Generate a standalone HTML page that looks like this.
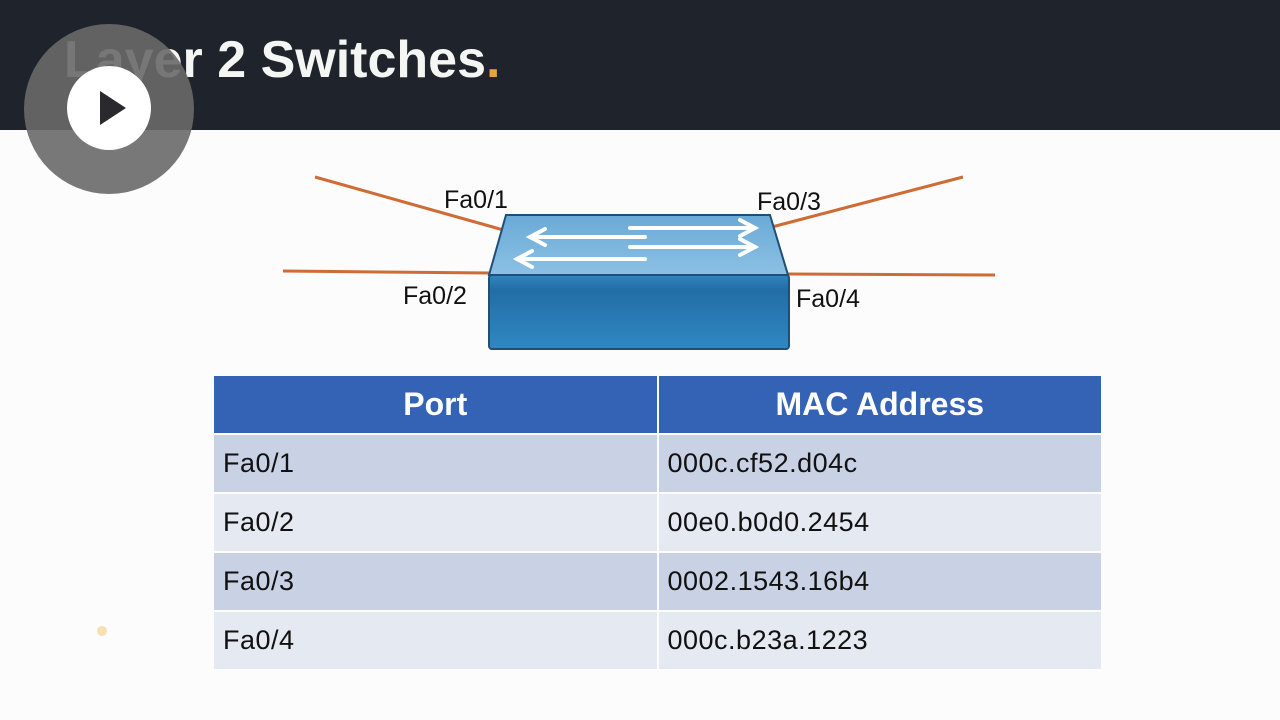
<!DOCTYPE html>
<html><head><style>
body{margin:0;width:1280px;height:720px;background:#fbfcfb;position:relative;overflow:hidden;font-family:"Liberation Sans",sans-serif}
.hdr{position:absolute;left:0;top:0;width:1280px;height:130px;background:#1f232b}
.title{position:absolute;left:64px;top:30px;font-size:52px;font-weight:bold;color:#f4f6f4;letter-spacing:0px}
.title span{color:#e8a33c}
.lbl{position:absolute;font-size:25px;color:#111}
table{position:absolute;left:212px;top:374px;border-collapse:separate;border-spacing:2px;width:891px}
td{font-size:27px;color:#111;padding:0 0 0 9px;height:57px;letter-spacing:0.5px}
th{background:#3462b5;color:#fff;font-size:32px;height:55px}
tr.a td{background:#c9d1e5}
tr.b td{background:#e5e9f2}
</style></head><body>
<div class="hdr"></div>
<div class="title">Layer 2 Switches<span>.</span></div>
<svg width="1280" height="720" style="position:absolute;left:0;top:0">
<g stroke="#cf6b35" stroke-width="3">
<line x1="315" y1="177" x2="507" y2="231"/>
<line x1="283" y1="271" x2="490" y2="273"/>
<line x1="768" y1="228" x2="963" y2="177"/>
<line x1="788" y1="274" x2="995" y2="275"/>
</g>
<defs><linearGradient id="f" x1="0" y1="0" x2="0" y2="1"><stop offset="0" stop-color="#2f86c0"/><stop offset=".2" stop-color="#236da6"/><stop offset="1" stop-color="#2f88c2"/></linearGradient>
<linearGradient id="t" x1="0" y1="0" x2="0" y2="1"><stop offset="0" stop-color="#6aaad6"/><stop offset="1" stop-color="#8cc0e4"/></linearGradient></defs>
<polygon points="506,215 770,215 788,275 489,275" fill="url(#t)" stroke="#1d4f78" stroke-width="2"/>
<rect x="489" y="275" width="300" height="74" rx="3" fill="url(#f)" stroke="#1d4f78" stroke-width="2"/>
<g stroke="#fff" stroke-width="4" fill="none" stroke-linecap="round">
<line x1="630" y1="228" x2="755" y2="228"/><polyline points="740,220 755,228 740,236"/>
<line x1="630" y1="247" x2="755" y2="247"/><polyline points="740,239 755,247 740,255"/>
<line x1="645" y1="237" x2="530" y2="237"/><polyline points="545,229 530,237 545,245"/>
<line x1="645" y1="259" x2="517" y2="259"/><polyline points="532,251 517,259 532,267"/>
</g>
<circle cx="109" cy="109" r="85" fill="rgba(105,105,105,0.9)"/>
<circle cx="109" cy="108" r="42" fill="#fff"/>
<polygon points="100,91 100,125 126,108" fill="#2a2a2e"/>
<circle cx="102" cy="631" r="5" fill="#f7e0b3"/>
</svg>
<div class="lbl" style="left:444px;top:186px">Fa0/1</div>
<div class="lbl" style="left:403px;top:282px">Fa0/2</div>
<div class="lbl" style="left:757px;top:188px">Fa0/3</div>
<div class="lbl" style="left:796px;top:285px">Fa0/4</div>
<table>
<tr><th style="width:50%">Port</th><th>MAC Address</th></tr>
<tr class="a"><td>Fa0/1</td><td>000c.cf52.d04c</td></tr>
<tr class="b"><td>Fa0/2</td><td>00e0.b0d0.2454</td></tr>
<tr class="a"><td>Fa0/3</td><td>0002.1543.16b4</td></tr>
<tr class="b"><td>Fa0/4</td><td>000c.b23a.1223</td></tr>
</table>
</body></html>
